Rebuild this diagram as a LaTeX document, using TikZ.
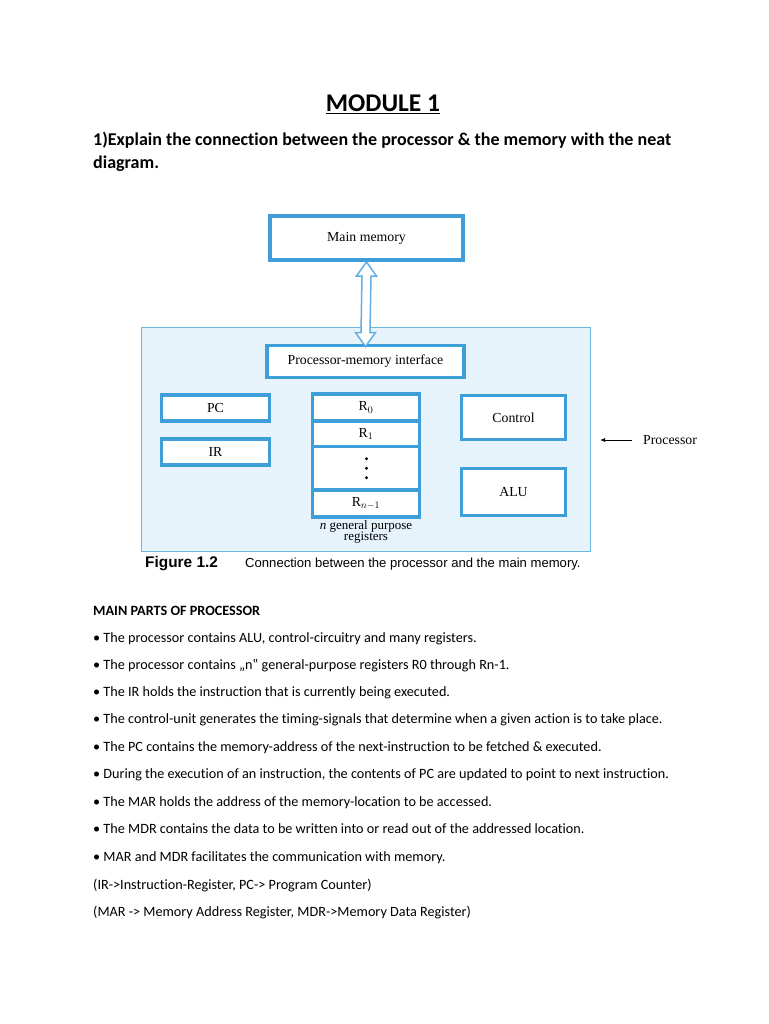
\documentclass[tikz,border=0pt]{standalone}
\usepackage{fontspec}
\setmainfont{Carlito}[Ligatures=NoCommon]
\newfontfamily\serifd{Liberation Serif}
\newfontfamily\capsans{Liberation Sans}
\usetikzlibrary{calc,arrows.meta}
\definecolor{boxblue}{RGB}{62,158,218}
\definecolor{arrblue}{RGB}{100,175,225}
\definecolor{procfill}{RGB}{230,243,250}
\definecolor{procline}{RGB}{110,185,225}
\tikzset{
  x=1pt,y=1pt,
  regbox/.style={draw=boxblue,line width=3.2pt,fill=white,inner sep=0pt,outer sep=0pt,anchor=center,font=\serifd\fontsize{13.8}{14}\selectfont},
  bodytxt/.style={anchor=base west,inner sep=0pt,font=\fontsize{14.2}{16}\selectfont},
}
\begin{document}
\begin{tikzpicture}
\useasboundingbox (0,0) rectangle (768,-1024);
\fill[white] (0,0) rectangle (768,-1024);
% title
\node[anchor=base,inner sep=0pt,font=\bfseries\fontsize{25.5}{28}\selectfont] (title) at (383,-112) {\underline{MODULE 1}};
\node[anchor=base west,inner sep=0pt,font=\bfseries\fontsize{18}{20}\selectfont] (q1) at (93,-146) {1)Explain the connection between the processor \& the memory with the neat};
\node[anchor=base west,inner sep=0pt,font=\bfseries\fontsize{18}{20}\selectfont] (q2) at (93,-169) {diagram.};
% diagram
\node[draw=procline,line width=0.8pt,fill=procfill,minimum width=449,minimum height=224,inner sep=0pt] (proc) at (365.5,-439) {};
\node[regbox,minimum width=193,minimum height=44] (mem) at (366.5,-238) {Main memory};
\node[regbox,minimum width=197,minimum height=32] (pmi) at (365.5,-361.5) {Processor-memory interface};
\node[regbox,minimum width=108,minimum height=26] (pc) at (215.5,-408) {PC};
\node[regbox,minimum width=108,minimum height=26] (ir) at (215.5,-452) {IR};
\node[regbox,minimum width=107,minimum height=27,anchor=north] (r0) at (366,-394) {R$_0$};
\node[regbox,minimum width=107,minimum height=25.5,anchor=north] (r1) at (r0.south) {R$_1$};
\node[regbox,minimum width=107,minimum height=43.5,anchor=north] (rdots) at (r1.south) {};
\node[regbox,minimum width=107,minimum height=27,anchor=north] (rn) at (rdots.south) {R$_{n-1}$};
\foreach \dy in {-9.5,0,9.5} \fill ($(rdots.center)+(0.5,\dy)$) circle (1.7);
\node[regbox,minimum width=104,minimum height=44] (ctrl) at (513.5,-417.5) {Control};
\node[regbox,minimum width=104,minimum height=47] (alu) at (513.5,-492) {ALU};
\node[align=center,inner sep=0pt,font=\serifd\fontsize{13}{11.5}\selectfont] (gpr) at (366,-532) {\textit{n} general purpose\\registers};
% hollow double arrow
\coordinate (at) at ($(mem.south)+(0,-2)$);
\coordinate (ab) at ($(pmi.north)+(0,-1)$);
\draw[draw=arrblue,fill=white,line width=1.5pt,line join=miter]
  (at) -- ($(at)+(10,-14)$) -- ($(at)+(4.5,-14)$) -- ($(ab)+(4.5,14)$) -- ($(ab)+(10,14)$) -- (ab)
  -- ($(ab)+(-10,14)$) -- ($(ab)+(-4.5,14)$) -- ($(at)+(-4.5,-14)$) -- ($(at)+(-10,-14)$) -- cycle;
% processor label
\node[anchor=west,inner sep=0pt,font=\serifd\fontsize{13.8}{14}\selectfont] (plab) at (643,-440) {Processor};
\coordinate (parrow) at (600,-440);
\draw[-{Latex[length=5pt,width=4pt]},line width=0.8pt] ($(plab.west)+(-11,0)$) -- (parrow);
% caption
\node[anchor=base west,inner sep=0pt,font=\capsans\bfseries\fontsize{15.4}{17}\selectfont] (figlab) at (145,-567) {Figure 1.2};
\node[anchor=base west,inner sep=0pt,font=\capsans\fontsize{13.1}{15}\selectfont] (figcap) at (245,-567) {Connection between the processor and the main memory.};
% body text
\node[bodytxt,font=\bfseries\fontsize{14.2}{16}\selectfont] (h1) at (93,-615) {MAIN PARTS OF PROCESSOR};
\node[bodytxt] (b1) at (93,-642) {\textbullet\ The processor contains ALU, control-circuitry and many registers.};
\node[bodytxt] (b2) at (93,-669) {\textbullet\ The processor contains „n‟ general-purpose registers R0 through Rn-1.};
\node[bodytxt] (b3) at (93,-696) {\textbullet\ The IR holds the instruction that is currently being executed.};
\node[bodytxt] (b4) at (93,-723.5) {\textbullet\ The control-unit generates the timing-signals that determine when a given action is to take place.};
\node[bodytxt] (b5) at (93,-751) {\textbullet\ The PC contains the memory-address of the next-instruction to be fetched \& executed.};
\node[bodytxt] (b6) at (93,-778.5) {\textbullet\ During the execution of an instruction, the contents of PC are updated to point to next instruction.};
\node[bodytxt] (b7) at (93,-806) {\textbullet\ The MAR holds the address of the memory-location to be accessed.};
\node[bodytxt] (b8) at (93,-833.5) {\textbullet\ The MDR contains the data to be written into or read out of the addressed location.};
\node[bodytxt] (b9) at (93,-861) {\textbullet\ MAR and MDR facilitates the communication with memory.};
\node[bodytxt] (b10) at (93,-889) {(IR->Instruction-Register, PC-> Program Counter)};
\node[bodytxt] (b11) at (93,-916.5) {(MAR -> Memory Address Register, MDR->Memory Data Register)};
\end{tikzpicture}
\end{document}
